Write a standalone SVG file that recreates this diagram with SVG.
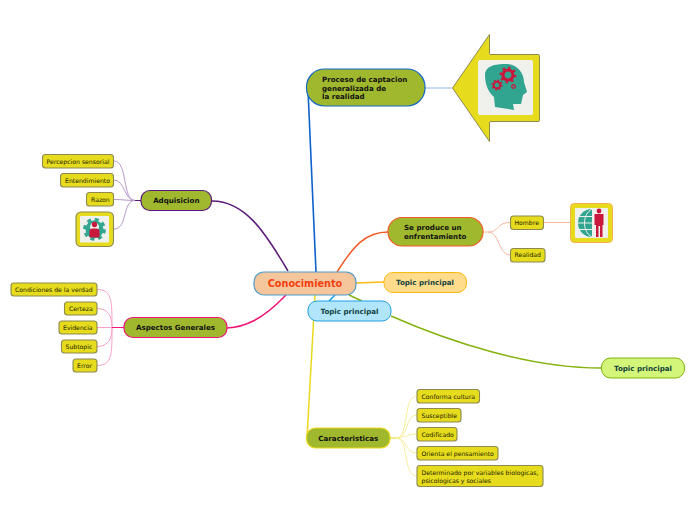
<svg xmlns="http://www.w3.org/2000/svg" width="696" height="520" viewBox="0 0 696 520">
<style>
text{font-family:"DejaVu Sans",Verdana,sans-serif;fill:#1a1a1a}
.l{font-size:6.15px;fill:#222200}
.m{font-size:7.1px;font-weight:bold;fill:#111}
.t{font-size:7.1px;font-weight:bold;fill:#10403c}
.leaf{fill:#e6db1c;stroke:#8c8a50;stroke-width:1.1}
.main{fill:#a0b82e;stroke-width:1.2}
.teal{fill:#31a590}
.red{fill:#c8193c}
.pan{fill:#f0f0ec}
</style>
<defs>
<symbol id="gear" viewBox="-10 -10 20 20"><g fill="none" stroke="#c8193c"><circle r="5.6" stroke-width="3.4"/><circle r="7.6" stroke-width="3.6" stroke-dasharray="2.4 3.56"/></g></symbol>
</defs>
<g id="connectors" fill="none">
<path d="M316 272L308 90" stroke="#0f62c8" stroke-width="1.6"/>
<path d="M425 88H452" stroke="#b5cdf0" stroke-width="1.5"/>
<path d="M288 271C265 232 245 201 212 201" stroke="#5b1a78" stroke-width="1.5"/>
<path d="M286 295C262 320 245 327 227 328" stroke="#ef1478" stroke-width="1.5"/>
<path d="M337 272C354 245 366 232 388 232" stroke="#f25a26" stroke-width="1.5"/>
<path d="M356 283L384 282" stroke="#fdb813" stroke-width="1.6"/>
<path d="M335 295L329 301" stroke="#1f9fe0" stroke-width="1.6"/>
<path d="M349 295L362 301M391 316C450 342 530 368 601 368" stroke="#84b20c" stroke-width="1.4"/>
<path d="M315 295L307 438" stroke="#ecd81a" stroke-width="1.5"/>
<g stroke="#b898c8" stroke-width="1">
<path d="M114 161C128 161 122 200.500 135 200.500"/>
<path d="M114 180C125 180 124 200.500 135 200.500"/>
<path d="M114 199.500C122 199.500 128 200.500 135 200.500"/>
<path d="M114 229C128 229 122 200.500 135 200.500"/>
<path d="M135 200.500H141" stroke="#5b1a78"/>
</g>
<g stroke="#fba0c8" stroke-width="1">
<path d="M97 289.500C112 289.500 112 300 112 327.500"/>
<path d="M97 308.500C108 308.500 112 316 112 327.500"/>
<path d="M97 327.500H112"/>
<path d="M97 346.500C108 346.500 112 339 112 327.500"/>
<path d="M97 365.500C112 365.500 112 355 112 327.500"/>
<path d="M112 327.500H124" stroke="#ef1478"/>
</g>
<g stroke="#fbb8a0" stroke-width="1">
<path d="M483 232H488"/>
<path d="M488 232C500 232 496 222.500 510 222.500"/>
<path d="M488 232C500 232 498 255 510 255"/>
<path d="M544 222.500H570"/>
</g>
<g stroke="#f8ee9c" stroke-width="1">
<path d="M390 438H396" stroke="#ecd81a"/>
<path d="M396 438C410 438 402 396 417 396"/>
<path d="M396 438C410 438 404 415 417 415"/>
<path d="M396 438C404 438 408 434 417 434"/>
<path d="M396 438C408 438 404 453 417 453"/>
<path d="M396 438C410 438 402 476 417 476"/>
</g>
</g>
<g id="central"><rect x="254" y="272" width="102" height="23" rx="10" fill="#f5c59c" stroke="#4f9bc8" stroke-width="1.2"/><text x="305" y="287" text-anchor="middle" style="font-size:9.7px;font-weight:bold;fill:#f2410f">Conocimiento</text></g>
<g id="proceso"><rect class="main" x="306.500" y="69" width="118.500" height="37" rx="18" stroke="#1468c8"/><text class="m" x="322" y="82">Proceso de captacion</text><text class="m" x="322" y="90.500">generalizada de</text><text class="m" x="322" y="99">la realidad</text></g>
<g id="imagen-cabeza"><path d="M489.500 34.500V53.500Q489.500 54.500 491 54.500H538Q539.500 54.500 539.500 56V120Q539.500 121.500 538 121.500H491Q489.500 121.500 489.500 123V141.500L452.500 88Z" fill="#e6db1c" stroke="#8c8a50"/><rect class="pan" x="478" y="60" width="55" height="55" rx="2"/><path class="teal" d="M485 75C485 66 495 64 506 64C518 64 524 74 524 82L527 92L523 95L521 104L513 104L514 110L495 107L494 97C488 92 485 84 485 75Z"/><use href="#gear" x="499" y="66" width="18" height="18"/><use href="#gear" x="491" y="79" width="12" height="12"/><circle cx="513.500" cy="86.500" r="1.800" fill="none" stroke="#c8193c" stroke-width="1.300"/></g>
<g id="adquisicion"><rect class="main" x="141" y="190.500" width="70.500" height="20" rx="9" stroke="#5b1a78"/><text class="m" x="176.300" y="203.300" text-anchor="middle">Adquisicion</text></g>
<g id="percepcion"><rect class="leaf" x="42.500" y="154.500" width="71" height="13.500" rx="3"/><text class="l" x="46.500" y="163.500">Percepcion sensorial</text></g>
<g id="entendimiento"><rect class="leaf" x="60.500" y="173.500" width="53" height="13.500" rx="3"/><text class="l" x="65" y="182.500">Entendimiento</text></g>
<g id="razon"><rect class="leaf" x="86.500" y="192.500" width="27" height="13.500" rx="3"/><text class="l" x="91" y="201.500">Razon</text></g>
<g id="imagen-engrane"><rect class="leaf" x="76" y="212" width="37.500" height="34.500" rx="5"/><rect class="pan" x="80" y="216" width="29" height="26.500" rx="1"/><circle cx="94.500" cy="229.300" r="9" class="teal"/><circle cx="94.500" cy="229.300" r="10" fill="none" stroke="#31a590" stroke-width="2.800" stroke-dasharray="4 3.850"/><circle class="pan" cx="94.500" cy="227" r="4.500"/><circle class="red" cx="94.500" cy="224.500" r="2.700"/><path class="red" d="M89.500 237.500V231.500Q89.500 228.500 92.500 228.500H96.500Q99.500 228.500 99.500 231.500V237.500Z"/></g>
<g id="aspectos"><rect class="main" x="124" y="317.500" width="103" height="20" rx="9" stroke="#ef1478"/><text class="m" x="175.500" y="330.300" text-anchor="middle">Aspectos Generales</text></g>
<g id="condiciones"><rect class="leaf" x="11" y="283" width="86" height="13" rx="3"/><text class="l" x="15" y="292">Condiciones de la verdad</text></g>
<g id="certeza"><rect class="leaf" x="64.500" y="302" width="32.500" height="13" rx="3"/><text class="l" x="69" y="311">Certeza</text></g>
<g id="evidencia"><rect class="leaf" x="59" y="321" width="38" height="13" rx="3"/><text class="l" x="63" y="330">Evidencia</text></g>
<g id="subtopic"><rect class="leaf" x="61.500" y="340" width="35.500" height="13" rx="3"/><text class="l" x="65.500" y="349">Subtopic</text></g>
<g id="error"><rect class="leaf" x="73" y="359" width="24" height="13" rx="3"/><text class="l" x="77" y="368">Error</text></g>
<g id="enfrentamiento"><rect class="main" x="388" y="217.500" width="95" height="28.500" rx="14" stroke="#f25a26"/><text class="m" x="404" y="230">Se produce un</text><text class="m" x="404" y="239">enfrentamiento</text></g>
<g id="hombre"><rect class="leaf" x="510.500" y="216" width="33" height="13.500" rx="3"/><text class="l" x="514.500" y="225">Hombre</text></g>
<g id="realidad"><rect class="leaf" x="510.500" y="248.500" width="34.500" height="13.500" rx="3"/><text class="l" x="514.500" y="257.300">Realidad</text></g>
<g id="imagen-mundo"><rect x="570.500" y="203.500" width="42" height="39" rx="4" fill="#e6db1c" stroke="#f6b04a"/><rect class="pan" x="575" y="208" width="33" height="30" rx="1"/><path class="teal" d="M592 209A14 14 0 0 0 592 237Z"/><path d="M578 216.500H592M578 223H592M578 229.500H592M592 209C582 214 582 232 592 237" fill="none" stroke="#f0f0ec" stroke-width="1"/><circle class="red" cx="599" cy="211" r="2.400"/><path class="red" d="M594.500 214H603.500V225H602.500V237H600V226H598.500V237H596V225H594.500Z"/></g>
<g id="topic-amber"><rect x="384" y="272.500" width="82.500" height="20" rx="9" fill="#ffdc8c" stroke="#fdb813"/><text class="t" x="425" y="285" text-anchor="middle">Topic principal</text></g>
<g id="topic-azul"><rect x="308" y="301" width="83" height="20" rx="9" fill="#b0e5fc" stroke="#1f9fe0"/><text class="t" x="349.500" y="314" text-anchor="middle">Topic principal</text></g>
<g id="topic-verde"><rect x="601.500" y="358" width="83" height="20" rx="9" fill="#d2f57a" stroke="#84b20c"/><text class="t" x="643" y="371" text-anchor="middle">Topic principal</text></g>
<g id="caracteristicas"><rect class="main" x="306.500" y="428" width="83.500" height="20" rx="9" stroke="#ecd81a"/><text class="m" x="348.300" y="441" text-anchor="middle">Caracteristicas</text></g>
<g id="conforma"><rect class="leaf" x="417" y="389.500" width="62.500" height="13.500" rx="3"/><text class="l" x="421.500" y="398.500">Conforma cultura</text></g>
<g id="susceptible"><rect class="leaf" x="417" y="408.500" width="44" height="13.500" rx="3"/><text class="l" x="421.500" y="417.500">Susceptible</text></g>
<g id="codificado"><rect class="leaf" x="417" y="427.500" width="40" height="13.500" rx="3"/><text class="l" x="421.500" y="437">Codificado</text></g>
<g id="orienta"><rect class="leaf" x="417" y="446.500" width="81" height="13.500" rx="3"/><text class="l" x="421.500" y="455.500">Orienta el pensamiento</text></g>
<g id="determinado"><rect class="leaf" x="417" y="465.500" width="126" height="21" rx="3"/><text class="l" x="421.500" y="475">Determinado por variables biologicas,</text><text class="l" x="421.500" y="482.500">psicologicas y sociales</text></g>
</svg>
